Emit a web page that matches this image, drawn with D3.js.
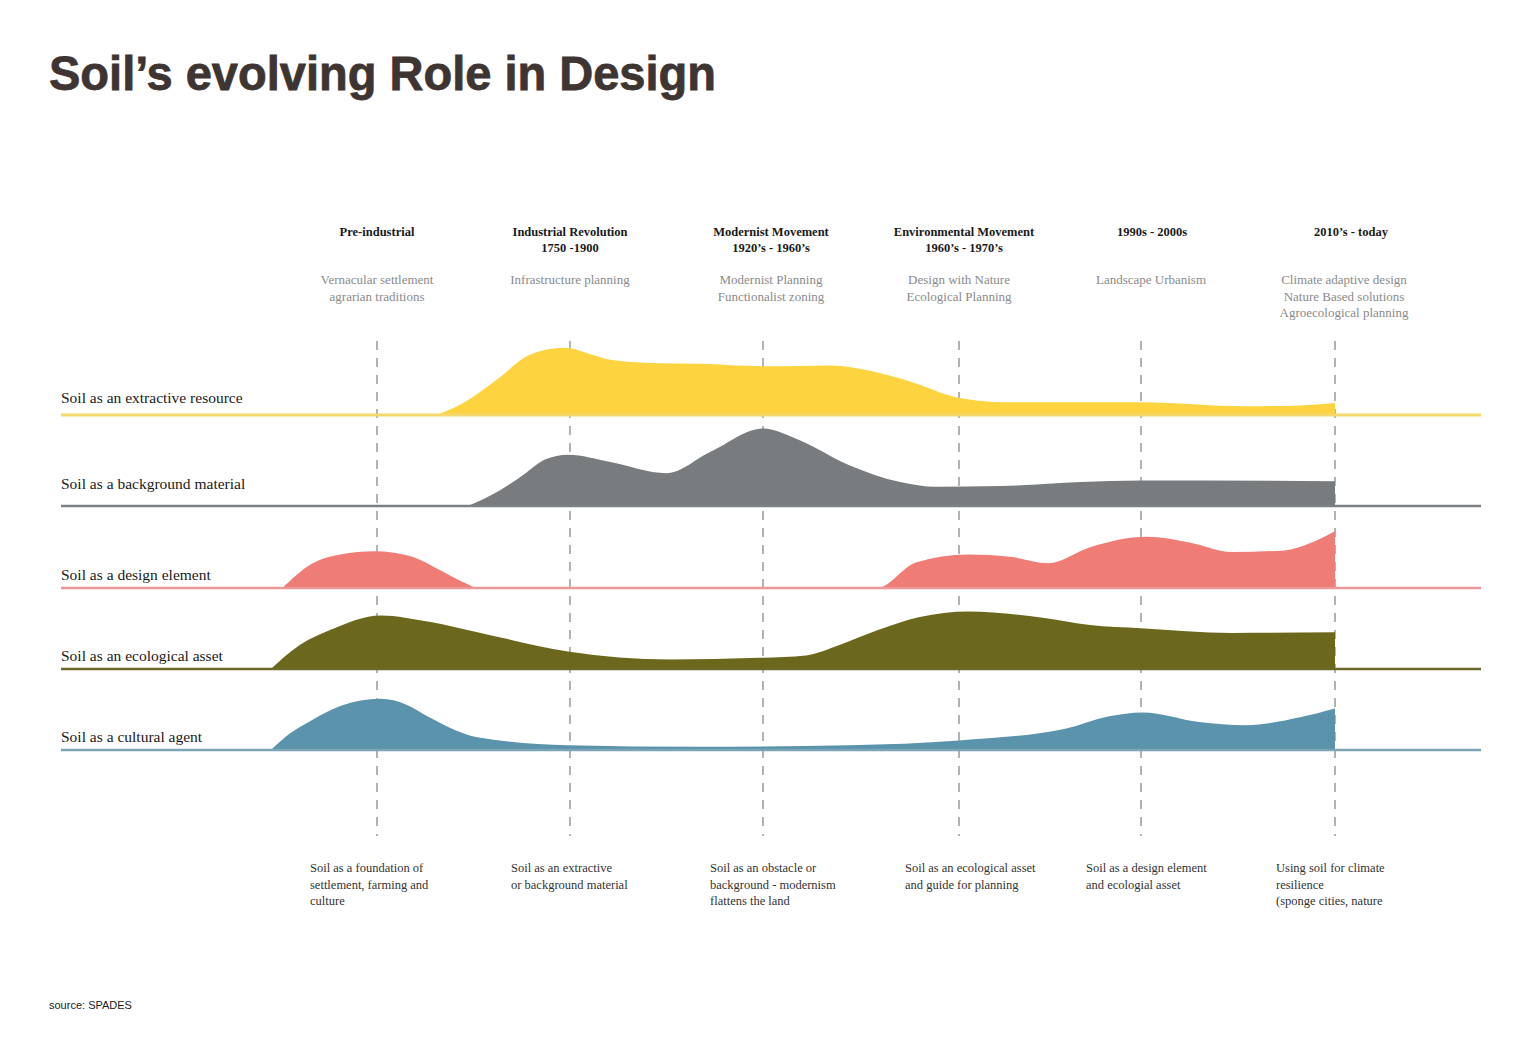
<!DOCTYPE html>
<html>
<head>
<meta charset="utf-8">
<script src="https://cdn.jsdelivr.net/npm/d3@7"></script>
<style>
  body { margin: 0; background: #fff; }
  svg { display: block; }
</style>
</head>
<body>
<div id="chart"></div>
<script>
// Data

// eras across the timeline (one dashed guide each)
const eraTitles = [
	["Pre-industrial"],
	["Industrial Revolution", "1750 -1900"],
	["Modernist Movement", "1920’s - 1960’s"],
	["Environmental Movement", "1960’s - 1970’s"],
	["1990s - 2000s"],
	["2010’s - today"]
]
const eraPractices = [
	["Vernacular settlement", "agrarian traditions"],
	["Infrastructure planning"],
	["Modernist Planning", "Functionalist zoning"],
	["Design with Nature", "Ecological Planning"],
	["Landscape Urbanism"],
	["Climate adaptive design", "Nature Based solutions", "Agroecological planning"]
]
const eraRoles = [
	["Soil as a foundation of", "settlement, farming and", "culture"],
	["Soil as an extractive", "or background material"],
	["Soil as an obstacle or", "background - modernism", "flattens the land"],
	["Soil as an ecological asset", "and guide for planning"],
	["Soil as a design element", "and ecologial asset"],
	["Using soil for climate", "resilience", "(sponge cities, nature"]
]

const roleNames = [
	"Soil as an extractive resource",
	"Soil as a background material",
	"Soil as a design element",
	"Soil as an ecological asset",
	"Soil as a cultural agent"
]

// [era position, intensity 0-100]
const extractive = [
	[0.31, 0], [0.44, 14], [0.62, 44], [0.79, 75], [0.97, 84], [1.12, 75], [1.21, 69],
	[1.42, 65], [1.67, 64], [2.0, 61], [2.35, 62], [2.55, 55], [2.75, 42], [2.99, 22], [3.25, 16],
	[4.0, 16], [4.54, 11], [4.82, 12], [5.0, 15]
]
const background = [
	[0.47, 0], [0.64, 20], [0.77, 41], [0.87, 58], [0.99, 64], [1.21, 55], [1.5, 41], [1.73, 68],
	[2.0, 97], [2.19, 82], [2.44, 51], [2.7, 30], [2.88, 24], [3.23, 25], [3.67, 30], [4.0, 32], [5.0, 31]
]
const designElement = [
	[-0.49, 0], [-0.34, 30], [-0.19, 42], [-0.01, 46], [0.17, 40], [0.33, 22], [0.45, 7], [0.53, 0],
	[2.58, 0], [2.78, 32], [3.05, 42], [3.28, 39], [3.49, 31], [3.72, 51], [4.03, 64], [4.25, 57],
	[4.47, 45], [4.74, 47], [4.87, 56], [5.0, 71]
]
const ecological = [
	[-0.55, 0], [-0.4, 30], [-0.24, 49], [0.02, 67], [0.27, 59], [0.52, 46], [0.99, 22], [1.52, 12],
	[1.98, 14], [2.22, 17], [2.39, 30], [2.59, 49], [2.8, 65], [3.05, 72], [3.46, 64], [3.72, 55],
	[4.0, 51], [4.47, 45], [5.0, 46]
]
const cultural = [
	[-0.55, 0], [-0.45, 21], [-0.34, 37], [-0.19, 55], [0.02, 64], [0.15, 57], [0.27, 41], [0.52, 16],
	[0.99, 6], [1.67, 4], [2.44, 6], [3.0, 12], [3.59, 27], [3.82, 42], [4.01, 47], [4.3, 35],
	[4.54, 31], [4.82, 41], [5.0, 52]
]

const roleSeries = [extractive, background, designElement, ecological, cultural]
const fillColors = ["#fdd340", "#797c7e", "#f07c76", "#6b671c", "#5a93ab"]
const lineColors = ["#f3d86c", "#7d8083", "#eb9896", "#6b6a2a", "#7ba4b6"]

// Layout
const width = 1536, height = 1060
const eraX = [377, 570, 763, 959, 1141, 1335]
const rowBase = [415, 506, 588, 669, 750]
const lineLeft = 61, lineRight = 1481
const serif = "'Liberation Serif', 'DejaVu Serif', serif"

const svg = d3.select("#chart")
	.append("svg")
	.attr("width", width)
	.attr("height", height)

// x: era index -> column, y: intensity -> band height
const x = d3.scaleLinear()
	.domain(d3.range(eraX.length))
	.range(eraX)
const h = d3.scaleLinear()
	.domain([0, 100])
	.range([0, 80])

// Title
svg.append("text")
	.attr("x", 49)
	.attr("y", 90)
	.attr("font-family", "'Liberation Sans', Arial, sans-serif")
	.attr("font-weight", "bold")
	.attr("font-size", "48px")
	.attr("textLength", 667)
	.attr("lengthAdjust", "spacingAndGlyphs")
	.attr("fill", "#3e3431")
	.attr("stroke", "#3e3431")
	.attr("stroke-width", 0.8)
	.text("Soil’s evolving Role in Design")

// Dashed era guides
svg.append("g").selectAll("line")
	.data(eraX)
	.join("line")
	.attr("x1", (d, i) => x(i))
	.attr("x2", (d, i) => x(i))
	.attr("y1", 341)
	.attr("y2", 836)
	.attr("stroke", "#666")
	.attr("stroke-width", 1)
	.attr("stroke-dasharray", "9,8")

// Era headers
const headerX = [377, 570, 771, 964, 1152, 1351]
const practiceX = [377, 570, 771, 959, 1151, 1344]
const headers = svg.append("g")
	.attr("font-family", serif)
	.attr("text-anchor", "middle")
eraTitles.forEach((lines, i) => {
	lines.forEach((t, j) => {
		headers.append("text")
			.attr("x", headerX[i])
			.attr("y", 236 + j * 16)
			.attr("font-size", "12.5px")
			.attr("font-weight", "bold")
			.attr("fill", "#1a1a1a")
			.text(t)
	})
})
eraPractices.forEach((lines, i) => {
	lines.forEach((t, j) => {
		headers.append("text")
			.attr("x", practiceX[i])
			.attr("y", 284 + j * 16.5)
			.attr("font-size", "13px")
			.attr("fill", "#8a8a8a")
			.text(t)
	})
})

// Role areas
const labelOffset = [12, 17, 8, 8, 8]
roleSeries.forEach((series, i) => {
	const base = rowBase[i]
	const area = d3.area()
		.x((d) => x(d[0]))
		.y0(base)
		.y1((d) => base - h(d[1]))
		.curve(d3.curveMonotoneX)

	svg.append("path")
		.datum(series)
		.attr("d", area)
		.attr("fill", fillColors[i])

	svg.append("line")
		.attr("x1", lineLeft)
		.attr("x2", lineRight)
		.attr("y1", base)
		.attr("y2", base)
		.attr("stroke", lineColors[i])
		.attr("stroke-width", i === 0 ? 3 : 2.5)

	svg.append("text")
		.attr("x", lineLeft)
		.attr("y", base - labelOffset[i])
		.attr("font-family", serif)
		.attr("font-size", "15.5px")
		.attr("fill", "#1a1a1a")
		.text(roleNames[i])
})

// Role descriptions below
const roleX = [310, 511, 710, 905, 1086, 1276]
const notes = svg.append("g")
	.attr("font-family", serif)
	.attr("font-size", "12.5px")
	.attr("fill", "#333")
eraRoles.forEach((lines, i) => {
	lines.forEach((t, j) => {
		notes.append("text")
			.attr("x", roleX[i])
			.attr("y", 872 + j * 16.5)
			.text(t)
	})
})

// Source
svg.append("text")
	.attr("x", 49)
	.attr("y", 1009)
	.attr("font-family", "'Liberation Sans', Arial, sans-serif")
	.attr("font-size", "11px")
	.attr("fill", "#222")
	.text("source: SPADES")
</script>
</body>
</html>
